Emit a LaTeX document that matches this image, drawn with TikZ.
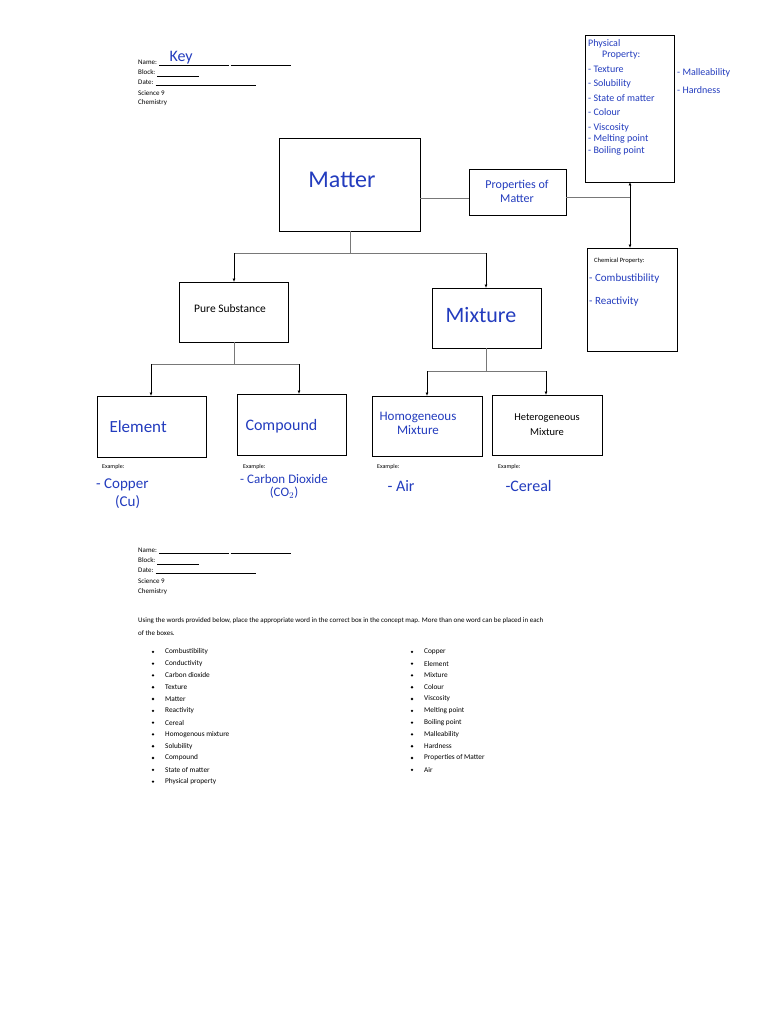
\documentclass[tikz,border=0pt]{standalone}
\usepackage{fontspec}
\setmainfont{Carlito}
\usetikzlibrary{arrows.meta}
\definecolor{ink}{RGB}{35,60,190}
\definecolor{ln}{RGB}{120,120,120}
\begin{document}
\begin{tikzpicture}[x=1pt,y=-1pt,
  box/.style={draw,line width=0.9pt,inner sep=0},
  hw/.style={text=ink,font=\fontsize{#1}{#1}\selectfont},
  pr/.style={font=\fontsize{7}{8.5}\selectfont,anchor=west,inner sep=0},
  li/.style={font=\fontsize{7.3}{8}\selectfont,anchor=west,inner sep=0},
  con/.style={draw=ln,line width=0.7pt},
  arr/.style={con,-{Latex[length=3.5pt,width=3pt]},draw=black}]
\useasboundingbox (0,0) rectangle (768,1024);
\fill[white] (0,0) rectangle (768,1024);
% header 1
\node[pr] (h1) at (138,63) {Name: \underline{\hspace{70pt}}\ \underline{\hspace{60pt}}};
\node[pr] (h2) at (138,73) {Block: \underline{\hspace{42pt}}};
\node[pr] (h3) at (138,83) {Date: \underline{\hspace{100pt}}};
\node[pr] (h4) at (138,93) {Science 9};
\node[pr] (h5) at (138,103) {Chemistry};
\node[hw=16,anchor=west] (key) at (166,58) {Key};
% boxes
\draw[box] (279,138) rectangle (420,231); \node[hw=24] (matter) at (342,180) {Matter};
\draw[box] (469,169) rectangle (566,215);
\node[hw=12,align=center] (prop) at (517,191) {Properties of\\[2pt] Matter};
\draw[box] (585,35) rectangle (674,182);
\node[text=ink,font=\fontsize{10}{14.5}\selectfont,anchor=north west,align=left,inner sep=0] (phys) at (588,39)
 {Physical\\[-3pt] \hspace{14pt}Property:\\ - Texture\\ - Solubility\\ - State of matter\\ - Colour\\ - Viscosity\\[-3pt] - Melting point\\[-3pt] - Boiling point};
\node[text=ink,font=\fontsize{10}{18}\selectfont,anchor=north west,align=left,inner sep=0] (phys2) at (677,68) {- Malleability\\ - Hardness};
\draw[box] (587,248) rectangle (677,351);
\node[pr,font=\fontsize{6.5}{8}\selectfont] (chem) at (594,261) {Chemical Property:};
\node[hw=11,anchor=west,inner sep=0] (c1) at (589,279) {- Combustibility};
\node[hw=11,anchor=west,inner sep=0] (c2) at (589,302) {- Reactivity};
\draw[box] (179,282) rectangle (288,342); \node[font=\fontsize{11.5}{12}\selectfont] (pure) at (230,309) {Pure Substance};
\draw[box] (432,288) rectangle (541,348); \node[hw=22] (mix) at (481,315) {Mixture};
\draw[box] (97,396) rectangle (206,457); \node[hw=17,anchor=west] (el) at (106,427) {Element};
\draw[box] (237,394) rectangle (346,455); \node[hw=16,anchor=west] (co) at (242,426) {Compound};
\draw[box] (372,396) rectangle (482,456); \node[hw=13,align=center] (ho) at (418,423) {Homogeneous\\[1pt] Mixture};
\draw[box] (492,395) rectangle (602,455); \node[font=\fontsize{10.5}{15}\selectfont,align=center] (he) at (547,425) {Heterogeneous\\ Mixture};
% examples
\foreach \x/\n in {102/e1,243/e2,377/e3,498/e4}{\node[pr,font=\fontsize{6}{7}\selectfont] (\n) at (\x,467) {Example:};}
\node[hw=15,align=left,anchor=north west,inner sep=0] (x1) at (96,479) {- Copper\\[3pt] \hspace{19pt}(Cu)};
\node[hw=13,align=center,anchor=north west,inner sep=0] (x2) at (240,474) {- Carbon Dioxide\\ (CO$_2$)};
\node[hw=16,anchor=west] (x3) at (384,486) {- Air};
\node[hw=16,anchor=west] (x4) at (502,486) {-Cereal};
% connectors
\coordinate (m1) at (350,253);
\draw[con] (350,231) -- (m1);
\draw[con] (234,253) -- (486,253);
\draw[arr] (234,253) -- (234,282);
\draw[arr] (486,253) -- (486,288);
\draw[con] (420,198) -- (469,198);
\coordinate (pj) at (630,197);
\draw[con] (566,197) -- (pj);
\draw[arr] (pj) -- (630,182);
\draw[arr] (pj) -- (630,248);
\draw[con] (234,342) -- (234,364);
\draw[con] (151,364) -- (299,364);
\draw[arr] (151,364) -- (151,396);
\draw[arr] (299,364) -- (299,394);
\draw[con] (486,348) -- (486,371);
\draw[con] (427,371) -- (546,371);
\draw[arr] (427,371) -- (427,396);
\draw[arr] (546,371) -- (546,395);
% header 2
\node[pr] (g1) at (138,551) {Name: \underline{\hspace{70pt}}\ \underline{\hspace{60pt}}};
\node[pr] (g2) at (138,561) {Block: \underline{\hspace{42pt}}};
\node[pr] (g3) at (138,571) {Date: \underline{\hspace{100pt}}};
\node[pr] (g4) at (138,581) {Science 9};
\node[pr] (g5) at (138,592) {Chemistry};
\node[pr] (p1) at (138,621) {Using the words provided below, place the appropriate word in the correct box in the concept map. More than one word can be placed in each};
\node[pr] (p2) at (138,633) {of the boxes.};
\foreach \t [count=\i] in {Combustibility,Conductivity,Carbon dioxide,Texture,Matter,Reactivity,Cereal,Homogenous mixture,Solubility,Compound,State of matter,Physical property}{
  \node[li] (l\i) at (165,640+11.8*\i) {\t};
  \fill (153,640+11.8*\i) circle (1.3pt);}
\foreach \t [count=\i] in {Copper,Element,Mixture,Colour,Viscosity,Melting point,Boiling point,Malleability,Hardness,Properties of Matter,Air}{
  \node[li] (r\i) at (424,640+11.8*\i) {\t};
  \fill (412,640+11.8*\i) circle (1.3pt);}
\end{tikzpicture}
\end{document}
